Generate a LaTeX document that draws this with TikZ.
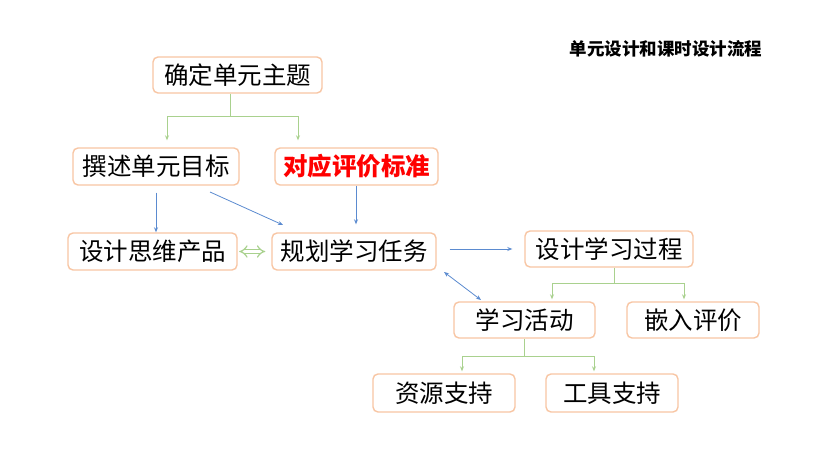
\documentclass[tikz,border=0pt]{standalone}
\usepackage{fontspec}
\newfontfamily\cjk{Noto Sans CJK SC}
\usetikzlibrary{arrows.meta}
\definecolor{boxline}{HTML}{F8C6A4}
\definecolor{gline}{HTML}{A9D18E}
\definecolor{bline}{HTML}{5B8BD0}
\definecolor{redtext}{HTML}{FF0000}
\tikzset{
  box/.style={draw=boxline, line width=1.4pt, rounded corners=5pt, fill=white,
    inner sep=0pt, font=\cjk\fontsize{24.5}{26}\selectfont, text=black},
  garr/.style={draw=gline, line width=1pt, -{Stealth[length=5pt,width=4pt]}},
  gl/.style={draw=gline, line width=1pt},
  barr/.style={draw=bline, line width=0.8pt, -{Stealth[length=5pt,width=4pt]}},
  bdarr/.style={draw=bline, line width=0.8pt, {Stealth[length=5pt,width=4pt]}-{Stealth[length=5pt,width=4pt]}},
}
\begin{document}
\begin{tikzpicture}[x=1pt,y=-1pt]
\useasboundingbox (0,0) rectangle (831,468);
\fill[white] (0,0) rectangle (831,468);

\node[font=\cjk\bfseries\fontsize{17.5}{19}\selectfont] (title) at (666,49) {单元设计和课时设计流程};

\node[box, minimum width=169pt, minimum height=36pt] (topic) at (237.5,75) {确定单元主题};
\node[box, minimum width=166pt, minimum height=37pt] (goal) at (156,166.5) {撰述单元目标};
\node[box, minimum width=163pt, minimum height=37pt, text=redtext, font=\cjk\bfseries\fontsize{24.5}{26}\selectfont] (eval) at (356.5,166.5) {对应评价标准};
\node[box, minimum width=169pt, minimum height=37pt] (product) at (152.5,251.5) {设计思维产品};
\node[box, minimum width=164pt, minimum height=37pt] (task) at (354,251.5) {规划学习任务};
\node[box, minimum width=168pt, minimum height=36pt] (process) at (609,249) {设计学习过程};
\node[box, minimum width=141pt, minimum height=36pt] (activity) at (524.5,320) {学习活动};
\node[box, minimum width=132pt, minimum height=36pt] (embed) at (693,320) {嵌入评价};
\node[box, minimum width=142pt, minimum height=38pt] (resource) at (444,393) {资源支持};
\node[box, minimum width=132pt, minimum height=38pt] (tool) at (612,393) {工具支持};

% green tree from topic
\coordinate (j1) at (230,117);
\draw[gl] (topic.south -| j1) -- (j1);
\draw[garr, shorten >=7pt] (j1) -| (goal.north -| 167,0);
\draw[garr, shorten >=7pt] (j1) -| (eval.north -| 298,0);

% blue arrows
\draw[barr, shorten <=7pt] (goal.south -| 156,0) -- (product.north -| 156,0);
\coordinate (b1) at (210,192);
\coordinate (b2) at (283,225);
\draw[barr] (b1) -- (b2);
\draw[barr, shorten >=8pt] (eval.south -| 356,0) -- (task.north -| 356,0);
\draw[barr, shorten <=13pt, shorten >=12pt] (task.east |- 0,249) -- (process.west |- 0,249);
\draw[bdarr] (444,272) -- (481,300);

% double green arrow
\draw[gline, line width=1.2pt, double=white, double distance=3pt,
  {Implies[length=7pt]}-{Implies[length=7pt]}, shorten <=1.5pt, shorten >=6pt] (product.east) -- (task.west);

% green tree from process
\coordinate (j2) at (614,283);
\draw[gl] (process.south -| j2) -- (j2);
\draw[garr, shorten >=2pt] (j2) -| (activity.north -| 552,0);
\draw[garr, shorten >=2pt] (j2) -| (embed.north -| 684,0);

% green tree from activity
\coordinate (j3) at (524,356);
\draw[gl] (activity.south -| j3) -- (j3);
\draw[garr, shorten >=2pt] (j3) -| (resource.north -| 462,0);
\draw[garr, shorten >=2pt] (j3) -| (tool.north -| 594,0);
\end{tikzpicture}
\end{document}
